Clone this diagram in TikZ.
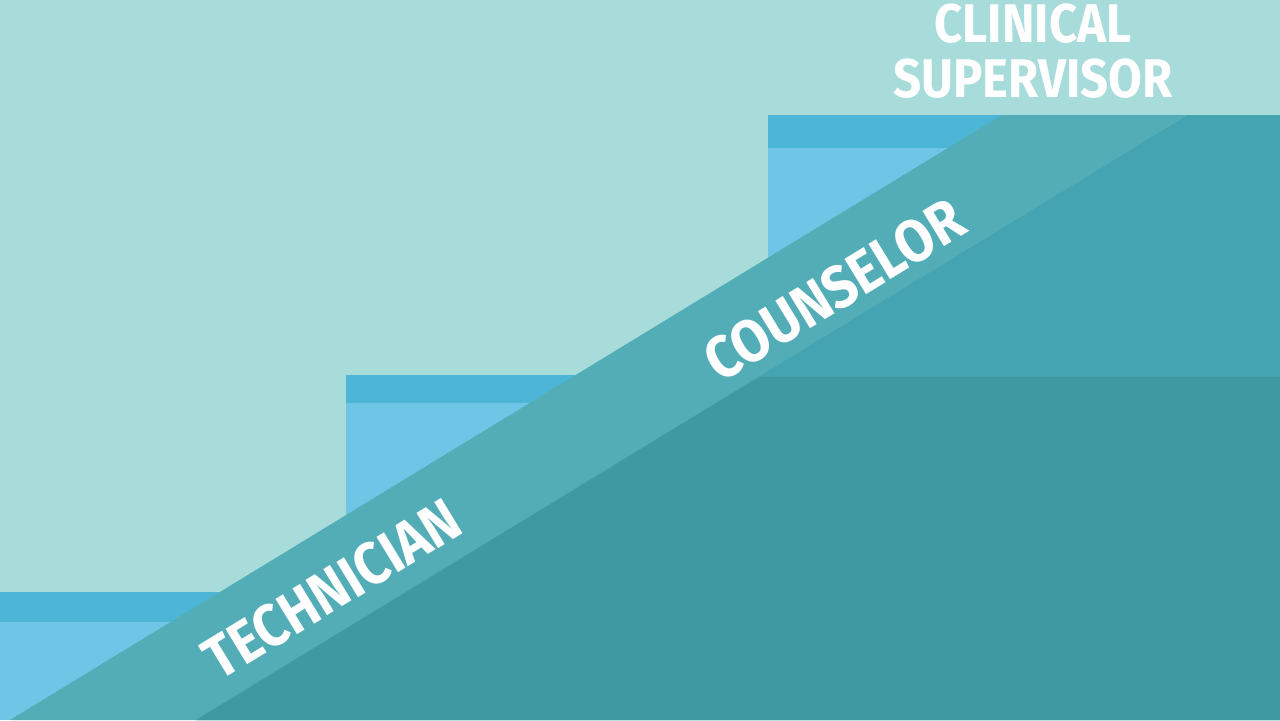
\documentclass[tikz,border=0pt]{standalone}
\usepackage{fontspec}
\usepackage{xcolor}
\usetikzlibrary{positioning}

\newfontfamily\stepfont{Fira Sans}[FakeStretch=0.9]

\definecolor{bgteal}{HTML}{A8DCDB}
\definecolor{stepedge}{HTML}{4DB6D6}
\definecolor{stepface}{HTML}{6FC5E5}
\definecolor{bandteal}{HTML}{52ADB7}
\definecolor{darkup}{HTML}{45A4B2}
\definecolor{darklow}{HTML}{3D9AA2}

\begin{document}
\begin{tikzpicture}[x=0.02cm, y=-0.02cm,
    steplabel/.style={text=white, inner sep=0pt, font=\stepfont\bfseries\fontsize{31}{31}\selectfont, align=center},
    slopelabel/.style={steplabel, rotate=31.4, font=\stepfont\bfseries\fontsize{34}{34}\selectfont}]

    % Background
    \useasboundingbox (0,0) rectangle (1280,720);
    \fill[bgteal] (0,0) rectangle (1280,720);

    % Steps
    \fill[stepface] (0,592) rectangle (1280,720);
    \fill[stepedge] (0,592) rectangle (1280,622);
    \fill[stepface] (346,375) rectangle (1280,720);
    \fill[stepedge] (346,375) rectangle (1280,403);
    \fill[stepface] (768,115) rectangle (1280,720);
    \fill[stepedge] (768,115) rectangle (1280,148);

    % Diagonal band and slope
    \fill[bandteal] (10,720) -- (1002,115) -- (1280,115) -- (1280,720) -- cycle;
    \fill[darkup] (196,720) -- (1188,115) -- (1280,115) -- (1280,720) -- cycle;
    \fill[darklow] (196,720) -- (759,377) -- (1280,377) -- (1280,720) -- cycle;

    % Labels
    \node[slopelabel] (technician) at (332,589) {TECHNICIAN};
    \node[slopelabel] (counselor) at (834,290) {COUNSELOR};
    \node[steplabel] (supervisor) at (1033,51) {CLINICAL\\SUPERVISOR};

\end{tikzpicture}
\end{document}
